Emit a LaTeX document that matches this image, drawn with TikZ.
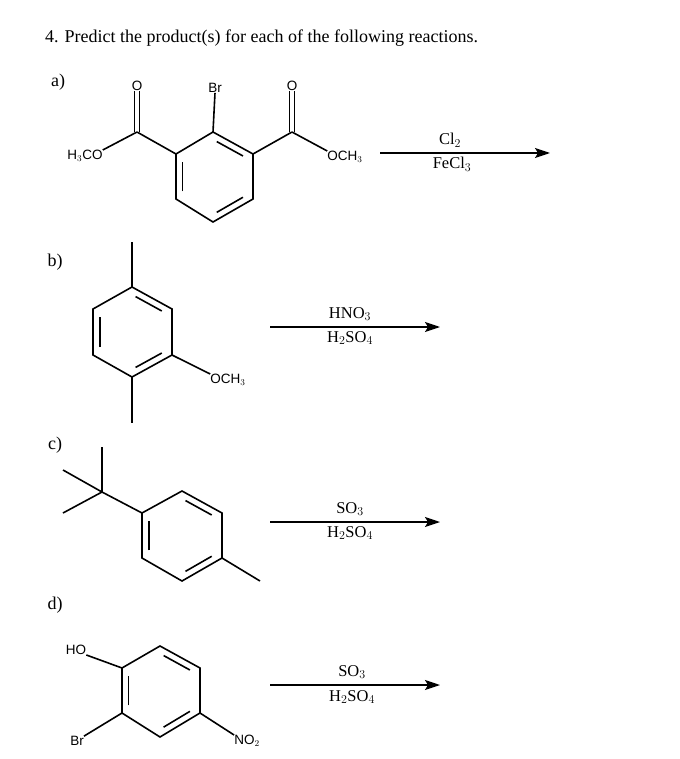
\documentclass[tikz,border=0pt]{standalone}
\usepackage{fontspec}
\setmainfont{Liberation Serif}
\setsansfont{Liberation Sans}
\usetikzlibrary{calc,arrows.meta}
\tikzset{bond/.style={line width=1.6pt},
 inner/.style={line width=1.6pt,shorten >=4pt,shorten <=4pt},
 atom/.style={font=\sffamily\fontsize{13.5}{13.5}\selectfont,inner sep=0pt},
 lbl/.style={font=\fontsize{18}{18}\selectfont,inner sep=0pt},
 reag/.style={font=\fontsize{16.5}{16.5}\selectfont,inner sep=0pt},
 rxn/.style={line width=1.6pt,-{Stealth[length=15pt,width=10pt,inset=3pt]}}}
\begin{document}
\begin{tikzpicture}[x=1pt,y=-1pt]
\useasboundingbox (0,0) rectangle (679,759);
\node[lbl,anchor=west] (title) at (45,38) {4. Predict the product(s) for each of the following reactions.};
% ---------- a
\node[lbl] (la) at (58,82) {a)};
\coordinate (a1) at (213,132);\coordinate (a2) at (253,154);\coordinate (a3) at (253,199);
\coordinate (a4) at (213,222);\coordinate (a5) at (176,199);\coordinate (a6) at (176,154);
\coordinate (ac) at (214.5,177);
\draw[bond] (a1)--(a2)--(a3)--(a4)--(a5)--(a6)--cycle;
\draw[inner] ($(ac)!0.83!(a1)$)--($(ac)!0.83!(a2)$);
\draw[inner] ($(ac)!0.83!(a3)$)--($(ac)!0.83!(a4)$);
\draw[inner] ($(ac)!0.83!(a5)$)--($(ac)!0.83!(a6)$);
\node[atom] (abr) at (215,88) {Br};
\draw[bond] (a1)--(abr.south);
\coordinate (ac1) at (137,132);\coordinate (ac2) at (292,132);
\draw[bond] (a6)--(ac1);\draw[bond] (a2)--(ac2);
\node[atom] (ao1) at (137,86) {O};\node[atom] (ao2) at (292,86) {O};
\draw[bond] ($(ac1)+(-2.5,0)$)--($(ao1.south)+(-2.5,0)$);
\draw[bond] ($(ac1)+(2.5,0)$)--($(ao1.south)+(2.5,0)$);
\draw[bond] ($(ac2)+(-2.5,0)$)--($(ao2.south)+(-2.5,0)$);
\draw[bond] ($(ac2)+(2.5,0)$)--($(ao2.south)+(2.5,0)$);
\node[atom] (ame1) at (85,156) {H$_3$CO};
\node[atom] (ame2) at (345,157) {OCH$_3$};
\draw[bond] (ac1)--(ame1.north east);
\draw[bond] (ac2)--(ame2.north west);
\coordinate (ra1) at (380,153);\coordinate (ra2) at (550,153);
\draw[rxn] (ra1)--(ra2);
\node[reag] (ra3) at (450,140) {Cl$_2$};
\node[reag] (ra4) at (452,164) {FeCl$_3$};
% ---------- b
\node[lbl] (lb) at (55,262) {b)};
\coordinate (b1) at (132,287);\coordinate (b2) at (172,309);\coordinate (b3) at (172,355);
\coordinate (b4) at (132,377);\coordinate (b5) at (93,355);\coordinate (b6) at (93,309);
\coordinate (bc) at (132.5,332);
\draw[bond] (b1)--(b2)--(b3)--(b4)--(b5)--(b6)--cycle;
\draw[inner] ($(bc)!0.83!(b1)$)--($(bc)!0.83!(b2)$);
\draw[inner] ($(bc)!0.83!(b3)$)--($(bc)!0.83!(b4)$);
\draw[inner] ($(bc)!0.83!(b5)$)--($(bc)!0.83!(b6)$);
\coordinate (bm1) at (132,242);\coordinate (bm2) at (132,423);
\draw[bond] (b1)--(bm1);\draw[bond] (b4)--(bm2);
\node[atom] (bo) at (228,380) {OCH$_3$};
\draw[bond] (b3)--(bo.north west);
\coordinate (rb1) at (270,327);\coordinate (rb2) at (440,327);
\draw[rxn] (rb1)--(rb2);
\node[reag] (rb3) at (350,314) {HNO$_3$};
\node[reag] (rb4) at (350,338) {H$_2$SO$_4$};
% ---------- c
\node[lbl] (lc) at (55,445) {c)};
\coordinate (cq) at (102,492);
\coordinate (cm1) at (102,447);\coordinate (cm2) at (63,470);\coordinate (cm3) at (63,513);
\draw[bond] (cq)--(cm1);\draw[bond] (cq)--(cm2);\draw[bond] (cq)--(cm3);
\coordinate (c1) at (182,491);\coordinate (c2) at (222,513);\coordinate (c3) at (222,558);
\coordinate (c4) at (182,581);\coordinate (c5) at (142,558);\coordinate (c6) at (142,513);
\coordinate (cc) at (182,536);
\draw[bond] (c1)--(c2)--(c3)--(c4)--(c5)--(c6)--cycle;
\draw[inner] ($(cc)!0.83!(c1)$)--($(cc)!0.83!(c2)$);
\draw[inner] ($(cc)!0.83!(c3)$)--($(cc)!0.83!(c4)$);
\draw[inner] ($(cc)!0.83!(c5)$)--($(cc)!0.83!(c6)$);
\draw[bond] (cq)--(c6);
\coordinate (cm4) at (260,581);\draw[bond] (c3)--(cm4);
\coordinate (rc1) at (270,522);\coordinate (rc2) at (440,522);
\draw[rxn] (rc1)--(rc2);
\node[reag] (rc3) at (350,509) {SO$_3$};
\node[reag] (rc4) at (350,533) {H$_2$SO$_4$};
% ---------- d
\node[lbl] (ld) at (55,605) {d)};
\coordinate (d1) at (160,646);\coordinate (d2) at (200,668);\coordinate (d3) at (200,713);
\coordinate (d4) at (160,737);\coordinate (d5) at (122,713);\coordinate (d6) at (122,668);
\coordinate (dc) at (161,691);
\draw[bond] (d1)--(d2)--(d3)--(d4)--(d5)--(d6)--cycle;
\draw[inner] ($(dc)!0.83!(d1)$)--($(dc)!0.83!(d2)$);
\draw[inner] ($(dc)!0.83!(d3)$)--($(dc)!0.83!(d4)$);
\draw[inner] ($(dc)!0.83!(d5)$)--($(dc)!0.83!(d6)$);
\node[atom] (dho) at (76,650) {HO};
\node[atom] (dbr) at (77,741) {Br};
\node[atom] (dno) at (247,741) {NO$_2$};
\draw[bond] (d6)--(dho.south east);
\draw[bond] (d5)--(dbr.north east);
\draw[bond] (d3)--(dno.north west);
\coordinate (rd1) at (270,685);\coordinate (rd2) at (440,685);
\draw[rxn] (rd1)--(rd2);
\node[reag] (rd3) at (352,672) {SO$_3$};
\node[reag] (rd4) at (352,697) {H$_2$SO$_4$};
\end{tikzpicture}
\end{document}
